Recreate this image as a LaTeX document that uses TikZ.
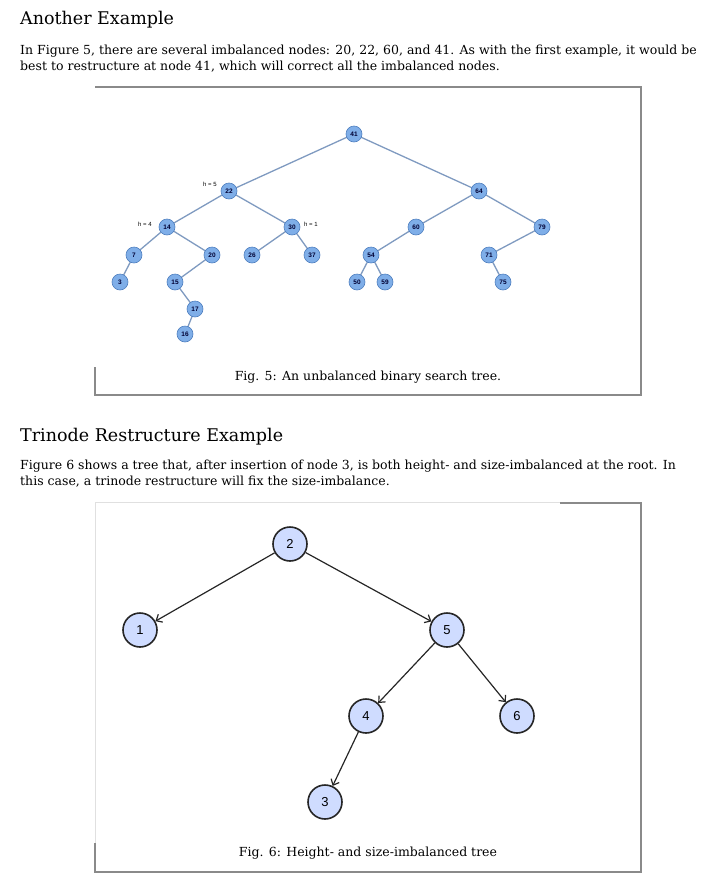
\documentclass[tikz,border=0pt]{standalone}
\usepackage{fontspec}
\setmainfont{DejaVu Serif}
\newfontfamily\sansf{Liberation Sans}
\usetikzlibrary{arrows.meta,backgrounds}
\definecolor{nb}{HTML}{7FAEE8}
\definecolor{nbd}{HTML}{4F7FBF}
\definecolor{ed}{HTML}{7F9AC0}
\definecolor{lb}{HTML}{CFDCFF}
\definecolor{fr}{HTML}{8A8A8A}
\tikzset{
  x=1pt,y=-1pt,
  sn/.style={circle,draw=nbd,fill=nb,line width=0.6pt,minimum size=16pt,inner sep=0pt,font=\sansf\bfseries\fontsize{6.5}{7}\selectfont,text=black!80!blue},
  se/.style={draw=ed,line width=1.3pt},
  bn/.style={circle,draw=black!85,fill=lb,line width=1.6pt,minimum size=34pt,inner sep=0pt,font=\sansf\fontsize{13}{15}\selectfont},
  be/.style={draw=black!85,line width=1.2pt,-{Straight Barb[length=5pt,width=9pt]}},
  framel/.style={draw=fr,line width=2pt},
  thinl/.style={draw=black!12,line width=0.8pt},
  hd/.style={anchor=west,font=\fontsize{17.5}{20}\selectfont,inner sep=0pt},
  tx/.style={anchor=west,font=\fontsize{12.5}{15}\selectfont,inner sep=0pt},
  capt/.style={font=\fontsize{12.5}{15}\selectfont,inner sep=0pt},
  hl/.style={font=\sansf\fontsize{6}{7}\selectfont,inner sep=0pt}
}
\begin{document}
\begin{tikzpicture}
\useasboundingbox (0,0) rectangle (716,876);
\node[hd] (h1) at (20,20) {Another Example};
\node[tx] (p1) at (20,51) {In Figure 5, there are several imbalanced nodes: 20, 22, 60, and 41. As with the first example, it would be};
\node[tx] (p2) at (20,67) {best to restructure at node 41, which will correct all the imbalanced nodes.};
\draw[framel] (95,87) -- (641,87) -- (641,395) -- (95,395) -- (95,367);
\node[capt] (c1) at (368,377) {Fig. 5: An unbalanced binary search tree.};
\foreach \n/\x/\y in {41/354/134,22/229/191,64/479/191,14/167/227,30/292/227,60/416/227,79/542/227,7/134/255,20/212/255,26/252/255,37/312/255,54/371/255,71/489/255,3/120/282,15/175/282,50/357/282,59/385/282,75/503/282,17/195/309,16/185/334}
  \node[sn] (t\n) at (\x,\y) {\n};
\begin{pgfonlayer}{background}
\foreach \a/\b in {41/22,41/64,22/14,22/30,64/60,64/79,14/7,14/20,30/26,30/37,60/54,79/71,7/3,20/15,54/50,54/59,71/75,15/17,17/16}
  \draw[se] (t\a.center) -- (t\b.center);
\end{pgfonlayer}
\node[hl] (l5) at (210,184) {h = 5};
\node[hl] (l4) at (145,224) {h = 4};
\node[hl] (l1) at (311,224) {h = 1};
\node[hd] (h2) at (20,437) {Trinode Restructure Example};
\node[tx] (p3) at (20,466) {Figure 6 shows a tree that, after insertion of node 3, is both height- and size-imbalanced at the root. In};
\node[tx] (p4) at (20,482) {this case, a trinode restructure will fix the size-imbalance.};
\draw[thinl] (560,502) -- (95,502) -- (95,872);
\draw[framel] (560,503) -- (641,503) -- (641,872) -- (95,872) -- (95,843);
\node[capt] (c2) at (368,853) {Fig. 6: Height- and size-imbalanced tree};
\node[bn] (n2) at (290,544) {2};
\node[bn] (n1) at (140,630) {1};
\node[bn] (n5) at (447,630) {5};
\node[bn] (n4) at (366,716) {4};
\node[bn] (n6) at (517,716) {6};
\node[bn] (n3) at (325,802) {3};
\draw[be] (n2) -- (n1);
\draw[be] (n2) -- (n5);
\draw[be] (n5) -- (n4);
\draw[be] (n5) -- (n6);
\draw[be] (n4) -- (n3);
\end{tikzpicture}
\end{document}
